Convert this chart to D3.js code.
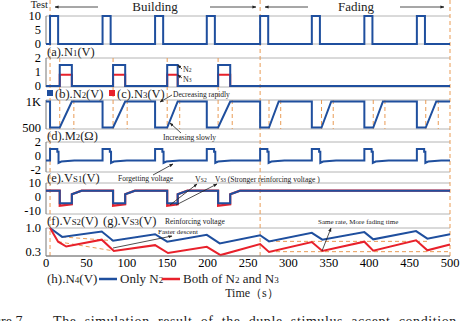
<!DOCTYPE html>
<html lang="en">
<head>
<meta charset="UTF-8">
<title>Duple stimulus</title>
<script src="https://d3js.org/d3.v7.min.js"></script>
<style>
    body { margin: 0; background: #fff; }
    svg { font-family: "Liberation Serif", "Times New Roman", serif; }
</style>
</head>
<body>
<svg width="474" height="321"></svg>
<script>
// time axis
var xTicks = [0, 50, 100, 150, 200, 250, 300, 350, 400, 450, 500];
var phaseLines = [5, 265, 500];

// (a) N1 input pulses
var n1Starts = [5, 70, 135, 199, 265, 329, 394, 459];
var n1Width = 10, n1High = 10;

// (b)(c) N2 / N3 pulses (building phase only)
var n2Starts = [17, 83, 150, 213];
var n2Ends = [32, 98, 163, 228];
var n2High = 1.5, n3High = 0.8;

// (d) M2 memristance
var m2Drop = [5, 70, 135, 199, 265, 329, 394, 459];
var m2Rise = [17, 83, 150, 213, 276, 341, 405, 470];
var m2Full = [32, 98, 163, 228, 288, 353, 417, 483];
var m2High = 1000, m2Low = 500;

// (e) Vs1
var vs1Base = -0.65, vs1High = 1.0, vs1Step = 0.6, vs1Dip = -1.0;

// (f)(g) Vs2 / Vs3
var vs2High = 4.5, vs2Low = -4.5, vs2After = 2.0;
var vs3LowStart = -6.2, vs3LowEnd = -5.2;

// (h) N4
var onlyT = [5, 20, 69, 83, 135, 150, 199, 215, 265, 276, 329, 342, 394, 405, 458, 472, 500];
var onlyV = [1.0, 0.74, 0.90, 0.63, 0.82, 0.60, 0.80, 0.55, 0.79, 0.61, 0.86, 0.66, 0.88, 0.67, 0.91, 0.69, 0.82];
var bothT = [5, 15, 25, 69, 84, 135, 151, 199, 216, 265, 276, 329, 342, 394, 405, 458, 472, 500];
var bothV = [1.0, 0.60, 0.46, 0.66, 0.33, 0.50, 0.27, 0.45, 0.21, 0.53, 0.30, 0.59, 0.33, 0.60, 0.34, 0.64, 0.35, 0.52];

var blue = "#1f4f9e", red = "#e8212b", orange = "#e99b55", frameCol = "#b4b4b4", ink = "#222";

var svg = d3.select("svg");
var x = d3.scaleLinear().domain([0, 500]).range([46, 450]);

var panels = {
    a: { y: d3.scaleLinear().domain([0, 10]).range([44, 16]), top: 16, bot: 44, ticks: [[0, "0"], [5, "5"], [10, "10"]] },
    b: { y: d3.scaleLinear().domain([0, 2]).range([86, 58]), top: 58, bot: 87, ticks: [[0, "0"], [1, "1"], [2, "2"]] },
    c: { y: d3.scaleLinear().domain([500, 1000]).range([127.5, 101.5]), top: 100, bot: 129, ticks: [[500, "500"], [1000, "1K"]] },
    e: { y: d3.scaleLinear().domain([-2, 2]).range([170, 142]), top: 142, bot: 172, ticks: [[-2, "-2"], [0, "0"], [2, "2"]] },
    f: { y: d3.scaleLinear().domain([-10, 10]).range([211, 183]), top: 183, bot: 214, ticks: [[-10, "-10"], [0, "0"], [10, "10"]] },
    h: { y: d3.scaleLinear().domain([0.3, 1.0]).range([252, 228]), top: 228, bot: 256, ticks: [[0.3, "0.3"], [1.0, "1.0"]] }
};

var defs = svg.append("defs");
defs.append("marker").attr("id", "arr").attr("viewBox", "0 0 10 10")
    .attr("refX", 9).attr("refY", 5).attr("markerWidth", 5).attr("markerHeight", 5)
    .attr("orient", "auto")
  .append("path").attr("d", "M0,1 L10,5 L0,9 Z").attr("fill", ink);

// frames
Object.keys(panels).forEach(function (k) {
    var p = panels[k];
    var g = svg.append("g");
    g.selectAll("line.h").data([p.top, p.bot]).enter().append("line")
        .attr("x1", x(0)).attr("x2", x(500)).attr("y1", function (d) { return d; }).attr("y2", function (d) { return d; })
        .attr("stroke", frameCol).attr("stroke-width", 1);
    g.append("line").attr("x1", x(0)).attr("x2", x(0)).attr("y1", p.top).attr("y2", p.bot)
        .attr("stroke", "#777").attr("stroke-width", 1);
    g.selectAll("text").data(p.ticks).enter().append("text")
        .attr("x", 41).attr("y", function (d) { return p.y(d[0]); })
        .attr("dy", "0.35em").attr("text-anchor", "end").attr("font-size", 12.5)
        .text(function (d) { return d[1]; });
});

// orange phase lines
svg.selectAll("line.phase").data(phaseLines).enter().append("line")
    .attr("x1", function (d) { return x(d); }).attr("x2", function (d) { return x(d); })
    .attr("y1", 0).attr("y2", 256)
    .attr("stroke", orange).attr("stroke-width", 1).attr("stroke-dasharray", "4,3");

// orange marks at M2 transitions
svg.selectAll("line.m2r").data(m2Rise).enter().append("line")
    .attr("x1", function (d) { return x(d); }).attr("x2", function (d) { return x(d); })
    .attr("y1", function (d, i) { return i < 4 ? 58 : 100; }).attr("y2", 129)
    .attr("stroke", orange).attr("stroke-width", 1).attr("stroke-dasharray", "4,3");
svg.selectAll("line.m2f").data(m2Full).enter().append("line")
    .attr("x1", function (d) { return x(d) + 2; }).attr("x2", function (d) { return x(d) + 2; })
    .attr("y1", 100).attr("y2", 129)
    .attr("stroke", orange).attr("stroke-width", 1).attr("stroke-dasharray", "4,3");

function path(p, pts, color, w) {
    var line = d3.line().x(function (d) { return x(d[0]); }).y(function (d) { return p.y(d[1]); });
    svg.append("path").datum(pts).attr("d", line)
        .attr("fill", "none").attr("stroke", color).attr("stroke-width", w || 2)
        .attr("stroke-linejoin", "miter");
}

// (a)
var n1 = [[0, 0]];
n1Starts.forEach(function (s) { n1.push([s, 0], [s, n1High], [s + n1Width, n1High], [s + n1Width, 0]); });
n1.push([500, 0]);
path(panels.a, n1, blue, 2);

// (b)(c)
var n3 = [[0, 0]], n2 = [[0, 0]];
n2Starts.forEach(function (s, i) {
    n3.push([s, 0], [s, n3High], [n2Ends[i], n3High], [n2Ends[i], 0]);
    n2.push([s, 0], [s, n2High], [n2Ends[i], n2High], [n2Ends[i], 0]);
});
n3.push([500, 0]); n2.push([500, 0]);
path(panels.b, n3, red, 2);
path(panels.b, n2, blue, 2);

// (d)
var m2 = [[0, m2High]];
m2Drop.forEach(function (s, i) { m2.push([s, m2High], [s, m2Low], [m2Rise[i], m2Low], [m2Full[i], m2High]); });
m2.push([500, m2High]);
path(panels.c, m2, blue, 2);

// (e)
var vs1 = [[0, vs1Base]];
n1Starts.forEach(function (s) {
    vs1.push([s, vs1Base], [s, vs1High], [s + 9, vs1High], [s + 9, vs1Step], [s + 10.5, vs1Step],
        [s + 10.5, vs1Dip], [s + 14, -0.8], [s + 30, vs1Base]);
});
vs1.push([500, vs1Base]);
path(panels.e, vs1, blue, 2);

// (f)(g)
var vs3 = [[0, vs2High]], vs2 = [[0, vs2High]];
n2Starts.forEach(function (s, i) {
    var e = n2Ends[i];
    vs3.push([s, vs2High], [s, vs3LowStart], [e, vs3LowEnd], [e, vs2After], [e + 12, vs2High]);
    vs2.push([s, vs2High], [s, vs2Low], [e, vs2Low], [e, vs2After], [e + 12, vs2High]);
});
vs3.push([500, vs2High]); vs2.push([500, vs2High]);
path(panels.f, vs3, red, 2.2);
path(panels.f, vs2, blue, 2);

// (h) guide lines
var hy = panels.h.y;
var guides = [[[20, 0.74], [83, 0.63]], [[15, 0.60], [84, 0.33]], [[276, 0.61], [472, 0.61]], [[276, 0.31], [500, 0.31]]];
svg.selectAll("line.guide").data(guides).enter().append("line")
    .attr("x1", function (d) { return x(d[0][0]); }).attr("y1", function (d) { return hy(d[0][1]); })
    .attr("x2", function (d) { return x(d[1][0]); }).attr("y2", function (d) { return hy(d[1][1]); })
    .attr("stroke", orange).attr("stroke-width", 1).attr("stroke-dasharray", "4,3");

path(panels.h, onlyT.map(function (t, i) { return [t, onlyV[i]]; }), blue, 2);
path(panels.h, bothT.map(function (t, i) { return [t, bothV[i]]; }), red, 2);

// x axis
svg.append("line").attr("x1", x(0)).attr("x2", x(500)).attr("y1", 256).attr("y2", 256).attr("stroke", "#777");
svg.selectAll("text.xt").data(xTicks).enter().append("text")
    .attr("x", function (d) { return x(d); }).attr("y", 267)
    .attr("text-anchor", "middle").attr("font-size", 12.5)
    .text(function (d) { return d; });

function rich(px, py, parts, size, anchor) {
    var t = svg.append("text").attr("x", px).attr("y", py).attr("font-size", size)
        .attr("text-anchor", anchor || "start").attr("fill", ink);
    parts.forEach(function (p) {
        var s = t.append("tspan").text(p[0]);
        if (p[1]) s.attr("font-size", size * 0.7);
    });
    return t;
}

function arrow(x1, y1, x2, y2) {
    svg.append("line").attr("x1", x1).attr("y1", y1).attr("x2", x2).attr("y2", y2)
        .attr("stroke", ink).attr("stroke-width", 0.8).attr("marker-end", "url(#arr)");
}

// header
rich(48, 8, [["Test"]], 10.5, "end");
rich(155, 11, [["Building"]], 13, "middle");
rich(356, 11, [["Fading"]], 13, "middle");
arrow(98, 7, 55, 7);
arrow(210, 7, 256, 7);
arrow(308, 7, 265, 7);
arrow(400, 7, 444, 7);

// panel labels
rich(47, 56, [["(a).N"], ["1", 1], ["(V)"]], 12.5);
svg.append("rect").attr("x", 47).attr("y", 90).attr("width", 6).attr("height", 6).attr("fill", blue);
rich(55, 98, [["(b).N"], ["2", 1], ["(V)"]], 12.5);
svg.append("rect").attr("x", 109).attr("y", 90).attr("width", 6).attr("height", 6).attr("fill", red);
rich(117, 98, [["(c).N"], ["3", 1], ["(V)"]], 12.5);
rich(47, 140, [["(d).M"], ["2", 1], ["(Ω)"]], 12.5);
rich(47, 182, [["(e).V"], ["S1", 1], ["(V)"]], 12.5);
rich(47, 225, [["(f).V"], ["S2", 1], ["(V)"]], 12.5);
rich(103, 225, [["(g).V"], ["S3", 1], ["(V)"]], 12.5);
rich(47, 283, [["(h).N"], ["4", 1], ["(V)"]], 13);

// legend
svg.append("line").attr("x1", 99).attr("x2", 117).attr("y1", 279).attr("y2", 279).attr("stroke", blue).attr("stroke-width", 2.5);
rich(120, 283, [["Only N"], ["2", 1]], 13);
svg.append("line").attr("x1", 162).attr("x2", 180).attr("y1", 279).attr("y2", 279).attr("stroke", red).attr("stroke-width", 2.5);
rich(183, 283, [["Both of N"], ["2", 1], [" and N"], ["3", 1]], 13);
rich(252, 297, [["Time（s）"]], 12, "middle");

// annotations
rich(183, 72, [["N"], ["2", 1]], 8);
arrow(182, 69, x(163), 65);
rich(183, 82, [["N"], ["3", 1]], 8);
arrow(182, 78, x(163), 75);
rich(173, 97, [["Decreasing rapidly"]], 7.5);
arrow(172, 95, 160, 102);
rich(163, 140, [["Increasing slowly"]], 7.5);
arrow(181, 133, 170, 123);
rich(118, 181, [["Forgetting voltage"]], 7.5);
arrow(153, 175, 173, 164);
rich(195, 182, [["V"], ["S2", 1]], 8);
rich(215, 182, [["V"], ["S3", 1], [" (Stronger reinforcing voltage )"]], 7.5);
arrow(170, 205, 197, 184);
arrow(176, 205, 217, 184);
rich(165, 224, [["Reinforcing voltage"]], 7.5);
rich(158, 234, [["Faster descent"]], 7);
arrow(113, 248, 172, 236);
rich(318, 224, [["Same rate, More fading time"]], 7);
arrow(322, 251, 331, 228);

// caption (cut at the bottom edge)
rich(26, 326, [["Figure 7."]], 14, "end");
svg.append("text").attr("x", 53).attr("y", 326).attr("font-size", 14).attr("word-spacing", 4)
    .attr("letter-spacing", 0.6).attr("fill", ink)
    .text("The simulation result of the duple stimulus accept condition");
</script>
</body>
</html>
